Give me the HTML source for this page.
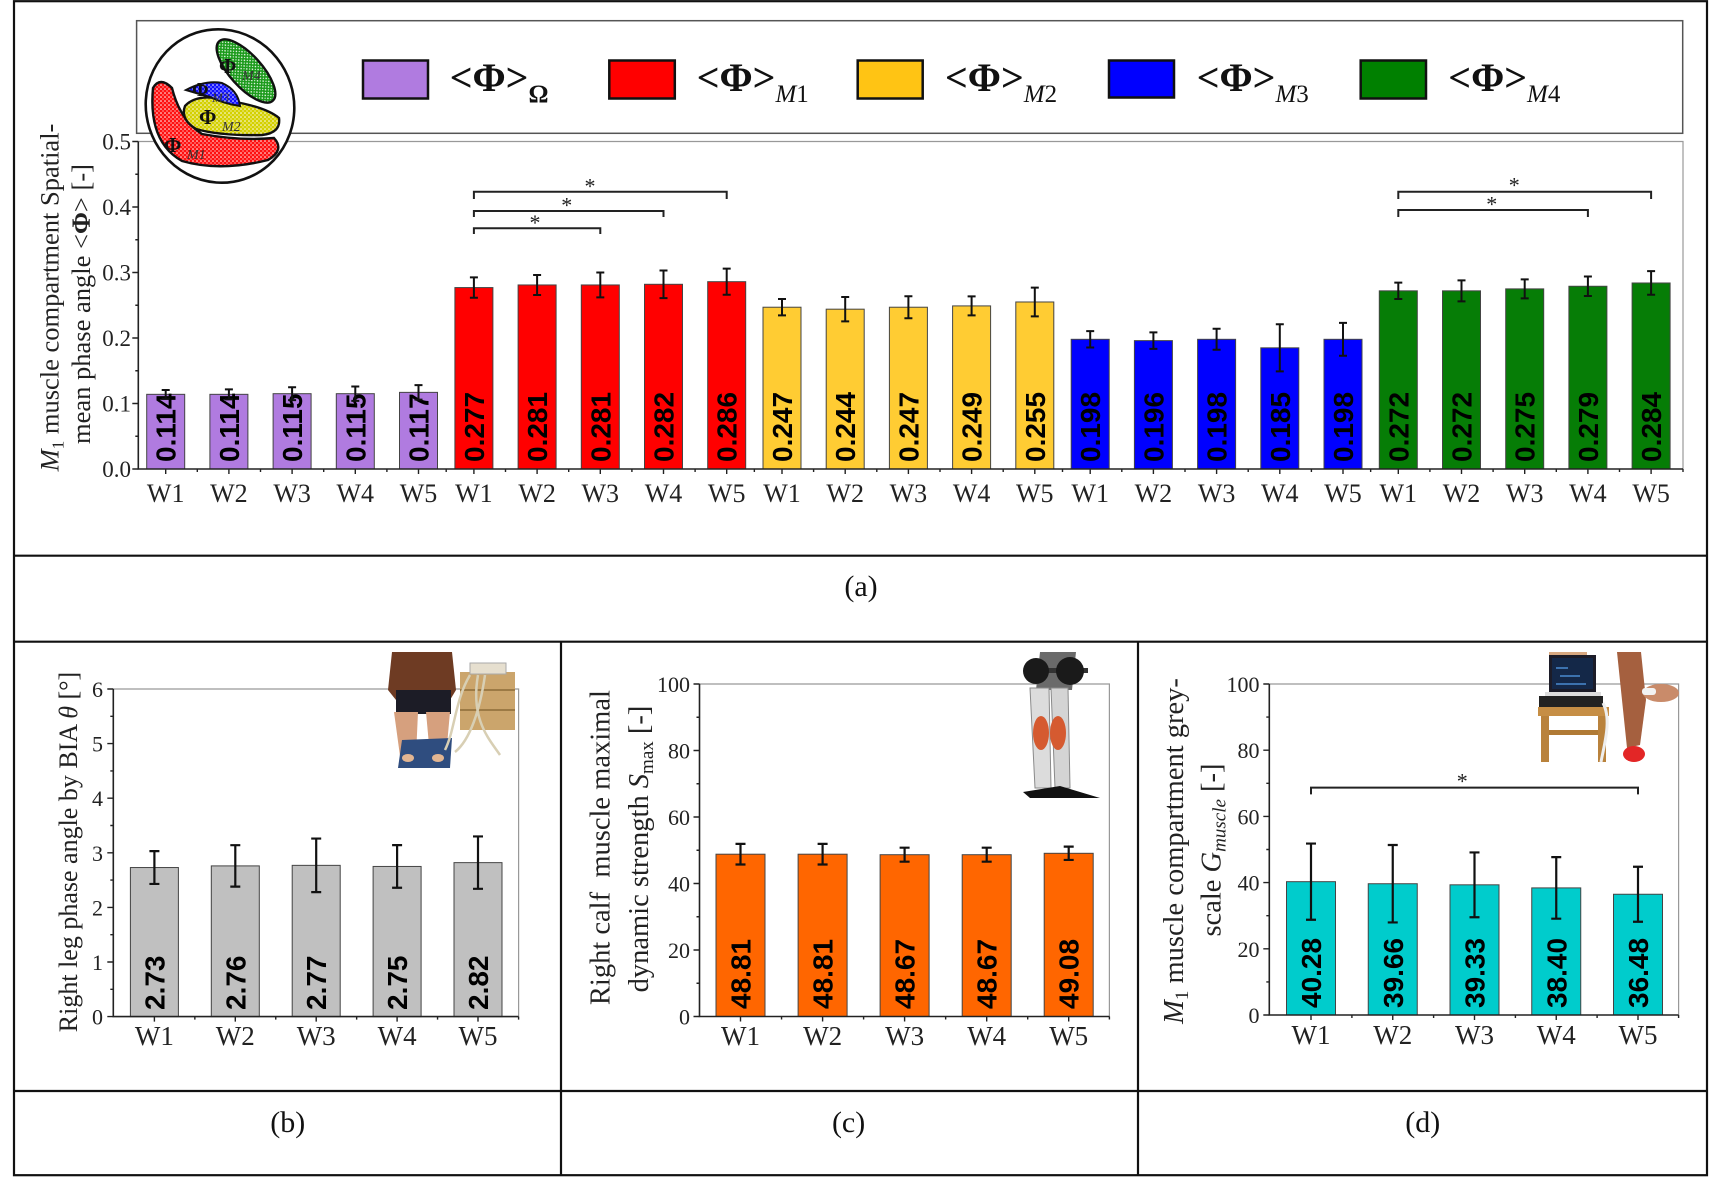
<!DOCTYPE html>
<html><head><meta charset="utf-8"><style>
html,body{margin:0;padding:0;background:#fff;}
svg{display:block;}
.serif{font-family:"Liberation Serif","DejaVu Serif",serif;}
.sans{font-family:"Liberation Sans","DejaVu Sans",sans-serif;}
</style></head><body>
<svg width="1725" height="1178" viewBox="0 0 1725 1178" xmlns="http://www.w3.org/2000/svg">
<defs>
<pattern id="pr" width="4" height="4" patternUnits="userSpaceOnUse"><rect width="4" height="4" fill="#ff1010"/><circle cx="1" cy="1" r="0.8" fill="#fff"/><circle cx="3" cy="3" r="0.6" fill="#fff"/></pattern>
<pattern id="py" width="4" height="4" patternUnits="userSpaceOnUse"><rect width="4" height="4" fill="#d4d000"/><circle cx="1" cy="1" r="0.8" fill="#fff"/><circle cx="3" cy="3" r="0.6" fill="#fff"/></pattern>
<pattern id="pg" width="4" height="4" patternUnits="userSpaceOnUse"><rect width="4" height="4" fill="#1a9a1a"/><circle cx="1" cy="1" r="0.8" fill="#fff"/><circle cx="3" cy="3" r="0.6" fill="#fff"/></pattern>
<pattern id="pb" width="4" height="4" patternUnits="userSpaceOnUse"><rect width="4" height="4" fill="#1010ff"/><circle cx="1" cy="1" r="0.8" fill="#fff"/><circle cx="3" cy="3" r="0.6" fill="#fff"/></pattern>
</defs>
<rect width="1725" height="1178" fill="#fff"/>

<!-- ================= PANEL A ================= -->
<rect x="136.6" y="20.7" width="1546.1" height="112.6" fill="#fff" stroke="#555" stroke-width="1.5"/>
<path d="M138.3,141.5H1683V469" fill="none" stroke="#999" stroke-width="1.2"/>

<g stroke="#111" stroke-width="2.5">
<rect x="363" y="60.5" width="65" height="38" fill="#b07be0"/>
<rect x="609.3" y="60.5" width="65.5" height="38" fill="#ff0000"/>
<rect x="857.7" y="60.5" width="65" height="38" fill="#ffc414"/>
<rect x="1109" y="60.5" width="65" height="37" fill="#0000ff"/>
<rect x="1360.7" y="60.5" width="65.3" height="38" fill="#008000"/>
</g>
<g class="serif" font-size="40" font-weight="bold" fill="#111">
<text x="449.7" y="91">&lt;Φ&gt;<tspan font-size="25" dy="11">Ω</tspan></text>
<text x="696.7" y="91">&lt;Φ&gt;<tspan font-size="25" font-weight="normal" font-style="italic" dy="11">M</tspan><tspan font-size="25" font-weight="normal">1</tspan></text>
<text x="945" y="91">&lt;Φ&gt;<tspan font-size="25" font-weight="normal" font-style="italic" dy="11">M</tspan><tspan font-size="25" font-weight="normal">2</tspan></text>
<text x="1196.7" y="91">&lt;Φ&gt;<tspan font-size="25" font-weight="normal" font-style="italic" dy="11">M</tspan><tspan font-size="25" font-weight="normal">3</tspan></text>
<text x="1448.3" y="91">&lt;Φ&gt;<tspan font-size="25" font-weight="normal" font-style="italic" dy="11">M</tspan><tspan font-size="25" font-weight="normal">4</tspan></text>
</g>

<g stroke="#444" stroke-width="1">
<g fill="#b07be0">
<rect x="146.7" y="394.33" width="38" height="74.67"/>
<rect x="209.9" y="394.33" width="38" height="74.67"/>
<rect x="273.1" y="393.68" width="38" height="75.32"/>
<rect x="336.3" y="393.68" width="38" height="75.32"/>
<rect x="399.5" y="392.37" width="38" height="76.63"/>
</g>
<g fill="#ff0000">
<rect x="454.9" y="287.57" width="38" height="181.43"/>
<rect x="518.1" y="284.95" width="38" height="184.05"/>
<rect x="581.3" y="284.95" width="38" height="184.05"/>
<rect x="644.5" y="284.29" width="38" height="184.71"/>
<rect x="707.7" y="281.67" width="38" height="187.33"/>
</g>
<g fill="#ffcc33">
<rect x="763.0" y="307.22" width="38" height="161.78"/>
<rect x="826.2" y="309.18" width="38" height="159.82"/>
<rect x="889.4" y="307.22" width="38" height="161.78"/>
<rect x="952.6" y="305.91" width="38" height="163.09"/>
<rect x="1015.8" y="301.98" width="38" height="167.02"/>
</g>
<g fill="#0000ff">
<rect x="1071.2" y="339.31" width="38" height="129.69"/>
<rect x="1134.4" y="340.62" width="38" height="128.38"/>
<rect x="1197.6" y="339.31" width="38" height="129.69"/>
<rect x="1260.8" y="347.83" width="38" height="121.17"/>
<rect x="1324.0" y="339.31" width="38" height="129.69"/>
</g>
<g fill="#067d06">
<rect x="1379.3" y="290.84" width="38" height="178.16"/>
<rect x="1442.5" y="290.84" width="38" height="178.16"/>
<rect x="1505.7" y="288.88" width="38" height="180.12"/>
<rect x="1568.9" y="286.26" width="38" height="182.74"/>
<rect x="1632.1" y="282.98" width="38" height="186.02"/>
</g>
</g>

<g class="sans" font-size="28" font-weight="bold" fill="#000">
<text transform="translate(175.7,462) rotate(-90)">0.114</text>
<text transform="translate(238.9,462) rotate(-90)">0.114</text>
<text transform="translate(302.1,462) rotate(-90)">0.115</text>
<text transform="translate(365.3,462) rotate(-90)">0.115</text>
<text transform="translate(428.5,462) rotate(-90)">0.117</text>
<text transform="translate(483.9,462) rotate(-90)">0.277</text>
<text transform="translate(547.1,462) rotate(-90)">0.281</text>
<text transform="translate(610.3,462) rotate(-90)">0.281</text>
<text transform="translate(673.5,462) rotate(-90)">0.282</text>
<text transform="translate(736.7,462) rotate(-90)">0.286</text>
<text transform="translate(792.0,462) rotate(-90)">0.247</text>
<text transform="translate(855.2,462) rotate(-90)">0.244</text>
<text transform="translate(918.4,462) rotate(-90)">0.247</text>
<text transform="translate(981.6,462) rotate(-90)">0.249</text>
<text transform="translate(1044.8,462) rotate(-90)">0.255</text>
<text transform="translate(1100.2,462) rotate(-90)">0.198</text>
<text transform="translate(1163.4,462) rotate(-90)">0.196</text>
<text transform="translate(1226.6,462) rotate(-90)">0.198</text>
<text transform="translate(1289.8,462) rotate(-90)">0.185</text>
<text transform="translate(1353.0,462) rotate(-90)">0.198</text>
<text transform="translate(1408.3,462) rotate(-90)">0.272</text>
<text transform="translate(1471.5,462) rotate(-90)">0.272</text>
<text transform="translate(1534.7,462) rotate(-90)">0.275</text>
<text transform="translate(1597.9,462) rotate(-90)">0.279</text>
<text transform="translate(1661.1,462) rotate(-90)">0.284</text>
</g>

<path fill="none" stroke="#111" stroke-width="2" d="
M165.7,390.03V398.63M161.7,390.03H169.7M161.7,398.63H169.7
M228.9,389.33V399.33M224.9,389.33H232.9M224.9,399.33H232.9
M292.1,387.28V400.08M288.1,387.28H296.1M288.1,400.08H296.1
M355.3,386.48V400.88M351.3,386.48H359.3M351.3,400.88H359.3
M418.5,385.17V399.57M414.5,385.17H422.5M414.5,399.57H422.5
M473.9,277.37V297.77M469.9,277.37H477.9M469.9,297.77H477.9
M537.1,274.95V294.95M533.1,274.95H541.1M533.1,294.95H541.1
M600.3,272.55V297.35M596.3,272.55H604.3M596.3,297.35H604.3
M663.5,270.49V298.09M659.5,270.49H667.5M659.5,298.09H667.5
M726.7,268.57V294.77M722.7,268.57H730.7M722.7,294.77H730.7
M782.0,299.02V315.42M778.0,299.02H786.0M778.0,315.42H786.0
M845.2,296.98V321.38M841.2,296.98H849.2M841.2,321.38H849.2
M908.4,296.22V318.22M904.4,296.22H912.4M904.4,318.22H912.4
M971.6,296.41V315.41M967.6,296.41H975.6M967.6,315.41H975.6
M1034.8,287.58V316.38M1030.8,287.58H1038.8M1030.8,316.38H1038.8
M1090.2,331.11V347.51M1086.2,331.11H1094.2M1086.2,347.51H1094.2
M1153.4,332.42V348.82M1149.4,332.42H1157.4M1149.4,348.82H1157.4
M1216.6,328.81V349.81M1212.6,328.81H1220.6M1212.6,349.81H1220.6
M1279.8,324.23V371.43M1275.8,324.23H1283.8M1275.8,371.43H1283.8
M1343.0,322.91V355.71M1339.0,322.91H1347.0M1339.0,355.71H1347.0
M1398.3,282.64V299.04M1394.3,282.64H1402.3M1394.3,299.04H1402.3
M1461.5,280.34V301.34M1457.5,280.34H1465.5M1457.5,301.34H1465.5
M1524.7,279.38V298.38M1520.7,279.38H1528.7M1520.7,298.38H1528.7
M1587.9,276.56V295.96M1583.9,276.56H1591.9M1583.9,295.96H1591.9
M1651.1,271.18V294.78M1647.1,271.18H1655.1M1647.1,294.78H1655.1"/>

<path fill="none" stroke="#222" stroke-width="1.6" d="M138.3,141.5V469H1683"/>
<path fill="none" stroke="#222" stroke-width="1.4" d="
M138.3,469h-6M138.3,403.5h-6M138.3,338h-6M138.3,272.5h-6M138.3,207h-6M138.3,141.5h-6
M138.3,436.25h-3M138.3,370.75h-3M138.3,305.25h-3M138.3,239.75h-3M138.3,174.25h-3
M165.7,469v5M228.9,469v5M292.1,469v5M355.3,469v5M418.5,469v5M473.9,469v5M537.1,469v5M600.3,469v5M663.5,469v5M726.7,469v5M782,469v5M845.2,469v5M908.4,469v5M971.6,469v5M1034.8,469v5M1090.2,469v5M1153.4,469v5M1216.6,469v5M1279.8,469v5M1343,469v5M1398.3,469v5M1461.5,469v5M1524.7,469v5M1587.9,469v5M1651.1,469v5
M197.3,469v3M260.5,469v3M323.7,469v3M386.9,469v3M446.2,469v3M505.5,469v3M568.7,469v3M631.9,469v3M695.1,469v3M754.35,469v3M813.6,469v3M876.8,469v3M940,469v3M1003.2,469v3M1062.5,469v3M1121.8,469v3M1185,469v3M1248.2,469v3M1311.4,469v3M1370.65,469v3M1429.9,469v3M1493.1,469v3M1556.3,469v3M1619.5,469v3M1683,469v3"/>

<g class="serif" font-size="23" fill="#222" text-anchor="end">
<text x="131" y="477">0.0</text>
<text x="131" y="411.5">0.1</text>
<text x="131" y="346">0.2</text>
<text x="131" y="280.5">0.3</text>
<text x="131" y="215">0.4</text>
<text x="131" y="149.5">0.5</text>
</g>
<g class="serif" font-size="26" fill="#222" text-anchor="middle">
<text x="165.7" y="502">W1</text><text x="228.9" y="502">W2</text><text x="292.1" y="502">W3</text><text x="355.3" y="502">W4</text><text x="418.5" y="502">W5</text>
<text x="473.9" y="502">W1</text><text x="537.1" y="502">W2</text><text x="600.3" y="502">W3</text><text x="663.5" y="502">W4</text><text x="726.7" y="502">W5</text>
<text x="782" y="502">W1</text><text x="845.2" y="502">W2</text><text x="908.4" y="502">W3</text><text x="971.6" y="502">W4</text><text x="1034.8" y="502">W5</text>
<text x="1090.2" y="502">W1</text><text x="1153.4" y="502">W2</text><text x="1216.6" y="502">W3</text><text x="1279.8" y="502">W4</text><text x="1343" y="502">W5</text>
<text x="1398.3" y="502">W1</text><text x="1461.5" y="502">W2</text><text x="1524.7" y="502">W3</text><text x="1587.9" y="502">W4</text><text x="1651.1" y="502">W5</text>
</g>
<g class="serif" font-size="26.5" fill="#222" text-anchor="middle">
<text transform="translate(58.6,297.5) rotate(-90)"><tspan font-style="italic">M</tspan><tspan font-size="17" dy="5">1</tspan><tspan dy="-5"> muscle compartment Spatial-</tspan></text>
<text transform="translate(90,304) rotate(-90)">mean phase angle &lt;<tspan font-weight="bold">Φ</tspan>&gt; [-]</text>
</g>

<path fill="none" stroke="#222" stroke-width="2" d="
M473.9,199V191.7H726.7V199
M473.9,217V211H663.5V217
M473.9,234V228.3H600.3V234
M1398.3,199V191.7H1651.1V199
M1398.3,217V210H1587.9V217"/>
<g class="serif" font-size="22" fill="#222" text-anchor="middle">
<text x="535" y="230">*</text>
<text x="566.7" y="212.3">*</text>
<text x="590" y="193.3">*</text>
<text x="1491.7" y="211.7">*</text>
<text x="1514.3" y="192.7">*</text>
</g>

<!-- cross-section image -->
<g>
<ellipse cx="220" cy="106" rx="74" ry="77" transform="rotate(-18 220 106)" fill="#fff" stroke="#111" stroke-width="2.6"/>
<ellipse cx="246" cy="71" rx="40" ry="16" transform="rotate(48 246 71)" fill="url(#pg)" stroke="#111" stroke-width="2.4"/>
<path d="M153,88 Q160,76 172,88 Q180,120 202,134 Q240,141 274,138 Q285,150 268,160 Q220,172 182,161 Q148,142 153,88 Z" fill="url(#pr)" stroke="#111" stroke-width="2.4"/>
<path d="M185,106 Q198,92 230,101 Q266,107 279,118 Q281,133 262,135 Q220,136 196,129 Q180,119 185,106 Z" fill="url(#py)" stroke="#111" stroke-width="2.4"/>
<path d="M186,90 Q205,80 222,83 Q238,90 240,106 Q225,104 210,97 Q196,93 186,90 Z" fill="url(#pb)" stroke="#111" stroke-width="2"/>
<g class="serif" fill="#111">
<text x="219" y="73" font-size="21" font-weight="bold">Φ</text><text x="242" y="80" font-size="14" font-style="italic" fill="#333">M4</text>
<text x="192" y="96" font-size="20" font-weight="bold">Φ</text><text x="212" y="102" font-size="13" font-style="italic" fill="#333">M3</text>
<text x="199" y="124" font-size="21" font-weight="bold">Φ</text><text x="222" y="131" font-size="14" font-style="italic" fill="#333">M2</text>
<text x="164" y="152" font-size="21" font-weight="bold">Φ</text><text x="187" y="159" font-size="14" font-style="italic" fill="#333">M1</text>
</g>
</g>

<!-- ================= PANEL B ================= -->
<path d="M113.3,689H518.6V1016.6" fill="none" stroke="#999" stroke-width="1.2"/>
<g stroke="#444" stroke-width="1" fill="#c0c0c0">
<rect x="130.4" y="867.54" width="48" height="149.06"/>
<rect x="211.3" y="865.9" width="48" height="150.7"/>
<rect x="292.2" y="865.36" width="48" height="151.24"/>
<rect x="373.1" y="866.45" width="48" height="150.15"/>
<rect x="454.0" y="862.63" width="48" height="153.97"/>
</g>
<g class="sans" font-size="28" font-weight="bold" fill="#000">
<text transform="translate(164.4,1010) rotate(-90)">2.73</text>
<text transform="translate(245.3,1010) rotate(-90)">2.76</text>
<text transform="translate(326.2,1010) rotate(-90)">2.77</text>
<text transform="translate(407.1,1010) rotate(-90)">2.75</text>
<text transform="translate(488,1010) rotate(-90)">2.82</text>
</g>
<path fill="none" stroke="#111" stroke-width="2.2" d="
M154.4,851.14V883.94M149.4,851.14H159.4M149.4,883.94H159.4
M235.3,845.2V886.6M230.3,845.2H240.3M230.3,886.6H240.3
M316.2,838.56V892.16M311.2,838.56H321.2M311.2,892.16H321.2
M397.1,845.15V887.75M392.1,845.15H402.1M392.1,887.75H402.1
M478,836.43V888.83M473,836.43H483M473,888.83H483"/>
<path fill="none" stroke="#222" stroke-width="1.6" d="M113.3,689V1016.6H518.6"/>
<path fill="none" stroke="#222" stroke-width="1.4" d="
M113.3,1016.6h-6M113.3,962h-6M113.3,907.4h-6M113.3,852.8h-6M113.3,798.2h-6M113.3,743.6h-6M113.3,689h-6
M113.3,989.3h-3M113.3,934.7h-3M113.3,880.1h-3M113.3,825.5h-3M113.3,770.9h-3M113.3,716.3h-3
M154.4,1016.6v5M235.3,1016.6v5M316.2,1016.6v5M397.1,1016.6v5M478,1016.6v5
M194.85,1016.6v3M275.75,1016.6v3M356.65,1016.6v3M437.55,1016.6v3M518.6,1016.6v3"/>
<g class="serif" font-size="22" fill="#222" text-anchor="end">
<text x="103" y="1024.6">0</text><text x="103" y="970">1</text><text x="103" y="915.4">2</text><text x="103" y="860.8">3</text><text x="103" y="806.2">4</text><text x="103" y="751.6">5</text><text x="103" y="697">6</text>
</g>
<g class="serif" font-size="27" fill="#222" text-anchor="middle">
<text x="154.4" y="1045">W1</text><text x="235.3" y="1045">W2</text><text x="316.2" y="1045">W3</text><text x="397.1" y="1045">W4</text><text x="478" y="1045">W5</text>
</g>
<text class="serif" font-size="26" fill="#222" text-anchor="middle" transform="translate(77,852) rotate(-90)">Right leg phase angle by BIA <tspan font-style="italic">θ</tspan> [°]</text>
<g>
<path d="M392,652H452L456,690L450,700H396L388,690Z" fill="#6e3b23"/>
<rect x="396" y="690" width="55" height="24" fill="#1c1c26"/>
<path d="M394,712H418L416,756H400Z" fill="#d6a07e"/>
<path d="M426,712H450L446,756H430Z" fill="#d6a07e"/>
<path d="M402,740L452,738L450,768L398,768Z" fill="#2f4d7f"/>
<ellipse cx="408" cy="758" rx="6" ry="4" fill="#e2b592"/>
<ellipse cx="438" cy="758" rx="6" ry="4" fill="#e2b592"/>
<rect x="460" y="672" width="55" height="58" fill="#cba56c"/>
<path d="M460,690H515M460,710H515" stroke="#9c7a45" stroke-width="2"/>
<rect x="470" y="663" width="36" height="11" fill="#e6dfcf" stroke="#aaa" stroke-width="1"/>
<path d="M470,675 C455,700 455,730 445,750 M478,675 C470,720 490,740 500,755 M485,675 C480,710 470,740 455,752" fill="none" stroke="#d8cfb4" stroke-width="2.5"/>
</g>

<!-- ================= PANEL C ================= -->
<path d="M699.5,684H1109.4V1016.5" fill="none" stroke="#999" stroke-width="1.2"/>
<g stroke="#444" stroke-width="1" fill="#ff6600">
<rect x="716" y="854.2" width="49" height="162.3"/>
<rect x="798.1" y="854.2" width="49" height="162.3"/>
<rect x="880.1" y="854.7" width="49" height="161.8"/>
<rect x="962.2" y="854.7" width="49" height="161.8"/>
<rect x="1044.2" y="853.3" width="49" height="163.2"/>
</g>
<g class="sans" font-size="28" font-weight="bold" fill="#000">
<text transform="translate(750.5,1009) rotate(-90)">48.81</text>
<text transform="translate(832.6,1009) rotate(-90)">48.81</text>
<text transform="translate(914.6,1009) rotate(-90)">48.67</text>
<text transform="translate(996.7,1009) rotate(-90)">48.67</text>
<text transform="translate(1078.7,1009) rotate(-90)">49.08</text>
</g>
<path fill="none" stroke="#111" stroke-width="2.2" d="
M740.5,843.9V864.5M735.5,843.9H745.5M735.5,864.5H745.5
M822.6,843.9V864.5M817.6,843.9H827.6M817.6,864.5H827.6
M904.6,847.7V861.7M899.6,847.7H909.6M899.6,861.7H909.6
M986.7,847.7V861.7M981.7,847.7H991.7M981.7,861.7H991.7
M1068.7,846.65V859.95M1063.7,846.65H1073.7M1063.7,859.95H1073.7"/>
<path fill="none" stroke="#222" stroke-width="1.6" d="M699.5,684V1016.5H1109.4"/>
<path fill="none" stroke="#222" stroke-width="1.4" d="
M699.5,1016.5h-6M699.5,950h-6M699.5,883.5h-6M699.5,817h-6M699.5,750.5h-6M699.5,684h-6
M699.5,983.25h-3M699.5,916.75h-3M699.5,850.25h-3M699.5,783.75h-3M699.5,717.25h-3
M740.5,1016.5v5M822.6,1016.5v5M904.6,1016.5v5M986.7,1016.5v5M1068.7,1016.5v5
M781.55,1016.5v3M863.6,1016.5v3M945.65,1016.5v3M1027.7,1016.5v3M1109.4,1016.5v3"/>
<g class="serif" font-size="22" fill="#222" text-anchor="end">
<text x="690" y="1024.5">0</text><text x="690" y="958">20</text><text x="690" y="891.5">40</text><text x="690" y="825">60</text><text x="690" y="758.5">80</text><text x="690" y="692">100</text>
</g>
<g class="serif" font-size="27" fill="#222" text-anchor="middle">
<text x="740.5" y="1045">W1</text><text x="822.6" y="1045">W2</text><text x="904.6" y="1045">W3</text><text x="986.7" y="1045">W4</text><text x="1068.7" y="1045">W5</text>
</g>
<g class="serif" font-size="28.5" fill="#222" text-anchor="middle">
<text transform="translate(609.3,847.6) rotate(-90)" xml:space="preserve">Right calf  muscle maximal</text>
<text transform="translate(648,849) rotate(-90)">dynamic strength <tspan font-style="italic">S</tspan><tspan font-size="19" dy="5">max</tspan><tspan dy="-5"> [-]</tspan></text>
</g>
<g>
<path d="M1040,652H1076L1072,690H1036Z" fill="#6a6a6a"/>
<path d="M1030,688H1049L1051,788H1035Z" fill="#dcdcdc" stroke="#8a8a8a" stroke-width="1"/>
<path d="M1051,688H1068L1070,788H1055Z" fill="#d4d4d4" stroke="#8a8a8a" stroke-width="1"/>
<ellipse cx="1041" cy="733" rx="8" ry="17" fill="#d55a30"/>
<ellipse cx="1058" cy="733" rx="8" ry="17" fill="#d55a30"/>
<rect x="1030" y="668" width="58" height="5" fill="#333"/>
<circle cx="1036" cy="671" r="13" fill="#1a1a1a"/>
<circle cx="1070" cy="671" r="14" fill="#1a1a1a"/>
<path d="M1023,792L1060,786L1100,798L1030,798Z" fill="#111"/>
</g>

<!-- ================= PANEL D ================= -->
<path d="M1269.3,684H1678.6V1015" fill="none" stroke="#999" stroke-width="1.2"/>
<g stroke="#444" stroke-width="1" fill="#00cccc">
<rect x="1286.5" y="881.67" width="49" height="133.33"/>
<rect x="1368.25" y="883.73" width="49" height="131.27"/>
<rect x="1450" y="884.82" width="49" height="130.18"/>
<rect x="1531.75" y="887.9" width="49" height="127.1"/>
<rect x="1613.5" y="894.25" width="49" height="120.75"/>
</g>
<g class="sans" font-size="28" font-weight="bold" fill="#000">
<text transform="translate(1321,1008) rotate(-90)">40.28</text>
<text transform="translate(1402.75,1008) rotate(-90)">39.66</text>
<text transform="translate(1484.5,1008) rotate(-90)">39.33</text>
<text transform="translate(1566.25,1008) rotate(-90)">38.40</text>
<text transform="translate(1648,1008) rotate(-90)">36.48</text>
</g>
<path fill="none" stroke="#111" stroke-width="2.2" d="
M1311,843.57V919.77M1306,843.57H1316M1306,919.77H1316
M1392.75,845.03V922.43M1387.75,845.03H1397.75M1387.75,922.43H1397.75
M1474.5,852.42V917.22M1469.5,852.42H1479.5M1469.5,917.22H1479.5
M1556.25,857.1V918.7M1551.25,857.1H1561.25M1551.25,918.7H1561.25
M1638,866.75V921.75M1633,866.75H1643M1633,921.75H1643"/>
<path fill="none" stroke="#222" stroke-width="1.6" d="M1269.3,684V1015H1678.6"/>
<path fill="none" stroke="#222" stroke-width="1.4" d="
M1269.3,1015h-6M1269.3,948.8h-6M1269.3,882.6h-6M1269.3,816.4h-6M1269.3,750.2h-6M1269.3,684h-6
M1269.3,981.9h-3M1269.3,915.7h-3M1269.3,849.5h-3M1269.3,783.3h-3M1269.3,717.1h-3
M1311,1015v5M1392.75,1015v5M1474.5,1015v5M1556.25,1015v5M1638,1015v5
M1351.9,1015v3M1433.6,1015v3M1515.4,1015v3M1597.1,1015v3M1678.6,1015v3"/>
<g class="serif" font-size="22" fill="#222" text-anchor="end">
<text x="1259.5" y="1023">0</text><text x="1259.5" y="956.8">20</text><text x="1259.5" y="890.6">40</text><text x="1259.5" y="824.4">60</text><text x="1259.5" y="758.2">80</text><text x="1259.5" y="692">100</text>
</g>
<g class="serif" font-size="27" fill="#222" text-anchor="middle">
<text x="1311" y="1044">W1</text><text x="1392.75" y="1044">W2</text><text x="1474.5" y="1044">W3</text><text x="1556.25" y="1044">W4</text><text x="1638" y="1044">W5</text>
</g>
<path fill="none" stroke="#222" stroke-width="2" d="M1311,794.4V787.6H1638V794.4"/>
<text class="serif" x="1462.3" y="788.3" font-size="22" fill="#222" text-anchor="middle">*</text>
<g class="serif" font-size="28.5" fill="#222" text-anchor="middle">
<text transform="translate(1183,851) rotate(-90)"><tspan font-style="italic">M</tspan><tspan font-size="19" dy="5">1</tspan><tspan dy="-5"> muscle compartment grey-</tspan></text>
<text transform="translate(1220.6,850) rotate(-90)">scale <tspan font-style="italic">G</tspan><tspan font-size="19" font-style="italic" dy="5">muscle</tspan><tspan dy="-5"> [-]</tspan></text>
</g>
<g>
<rect x="1549" y="652" width="38" height="6" fill="#d8a880"/>
<rect x="1549" y="655" width="47" height="37" fill="#1c1c28"/>
<rect x="1552" y="658" width="41" height="31" fill="#142848"/>
<path d="M1556,668h12M1560,676h20M1556,684h30" stroke="#4a8ad0" stroke-width="1.5"/>
<rect x="1545" y="692" width="56" height="5" fill="#ddd"/>
<rect x="1539" y="696" width="64" height="12" fill="#222"/>
<rect x="1538" y="707" width="71" height="9" fill="#c68e45"/>
<rect x="1541" y="716" width="8" height="46" fill="#b9823c"/>
<rect x="1598" y="716" width="8" height="46" fill="#b9823c"/>
<rect x="1549" y="730" width="49" height="5" fill="#b07a35"/>
<path d="M1603,703 C1612,720 1604,745 1601,762" fill="none" stroke="#eee" stroke-width="3"/>
<path d="M1617,652H1641L1646,700L1640,745L1627,748L1622,700Z" fill="#a5603f"/>
<ellipse cx="1634" cy="754" rx="11" ry="8" fill="#e32626"/>
<ellipse cx="1661" cy="693" rx="18" ry="9" fill="#c98b6a"/>
<rect x="1642" y="688" width="14" height="7" rx="3" fill="#f2f2f2"/>
</g>

<!-- ================= TABLE LINES ================= -->
<g stroke="#111" stroke-width="2.2" fill="none">
<rect x="14" y="1.2" width="1693" height="1174"/>
<path d="M14,555.7H1707M14,641.7H1707M14,1091H1707M561,641.7V1175M1138,641.7V1175"/>
</g>

<g class="serif" font-size="30" fill="#111" text-anchor="middle">
<text x="861" y="596">(a)</text>
<text x="287.7" y="1132">(b)</text>
<text x="848.6" y="1132">(c)</text>
<text x="1422.8" y="1132">(d)</text>
</g>
</svg>
</body></html>
